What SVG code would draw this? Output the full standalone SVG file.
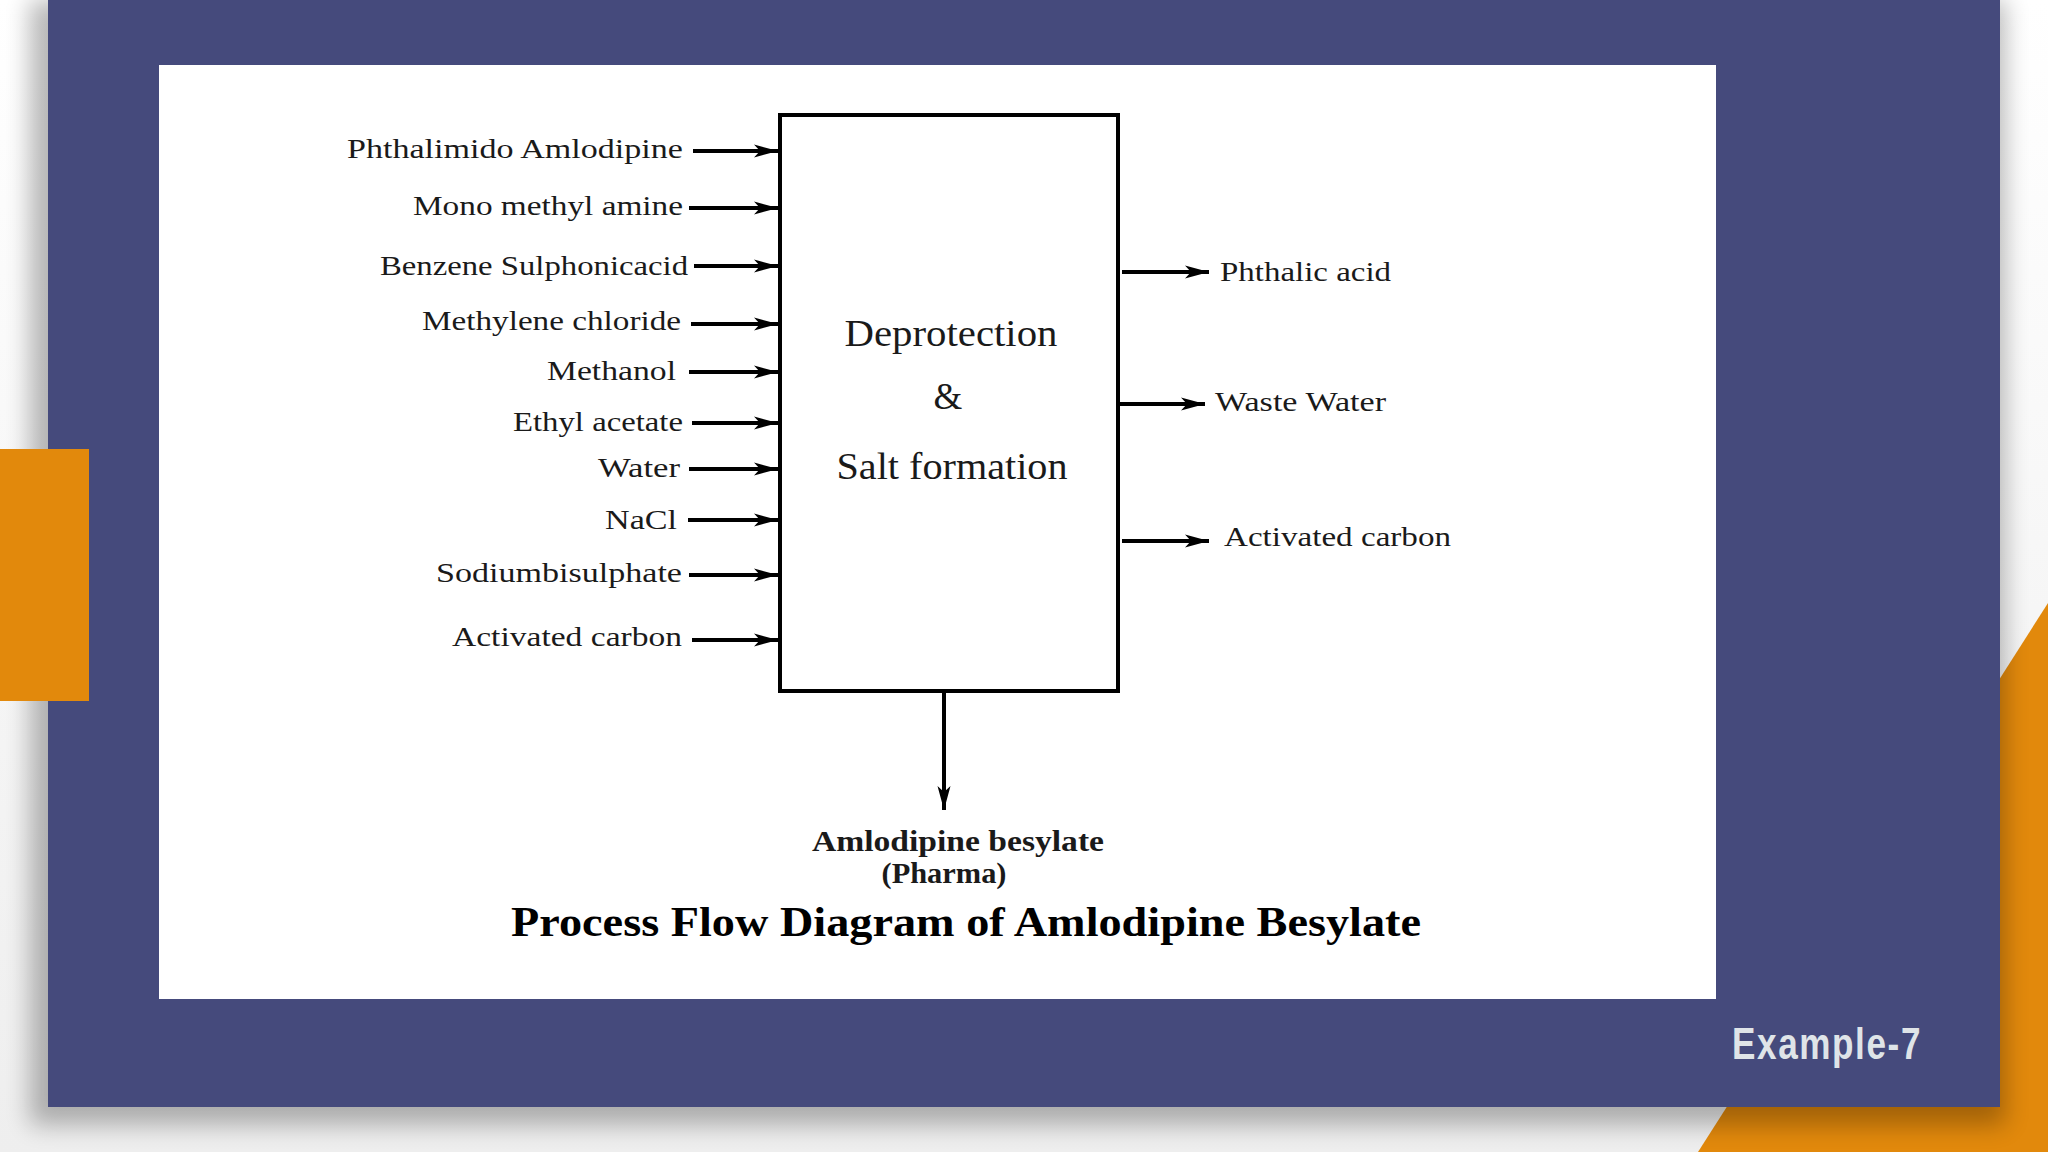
<svg xmlns="http://www.w3.org/2000/svg" width="2048" height="1152" viewBox="0 0 2048 1152">
<defs>
<style>
.lbl{font-family:"Liberation Serif","Times New Roman",serif;font-size:28px;fill:#1a1a1a}
.box{fill:#fff;stroke:#000;stroke-width:4}
.mid{font-family:"Liberation Serif","Times New Roman",serif;font-size:37px;fill:#1a1a1a;text-anchor:middle}
.prod{font-family:"Liberation Serif","Times New Roman",serif;font-size:29px;font-weight:bold;fill:#1a1a1a;text-anchor:middle}
.title{font-family:"Liberation Serif","Times New Roman",serif;font-size:43px;font-weight:bold;fill:#000;text-anchor:middle}
.conn line{stroke:#000;stroke-width:4;marker-end:url(#ah)}
</style>
<marker id="ah" markerUnits="userSpaceOnUse" markerWidth="26" markerHeight="16" refX="24" refY="8" orient="auto">
<path d="M0,1.5 L24,8 L0,14.5 L6,8 Z" fill="#000"/>
</marker>
<filter id="sh" x="-5%" y="-5%" width="110%" height="115%">
<feGaussianBlur stdDeviation="12"/>
</filter>
<linearGradient id="bg" x1="0" y1="0" x2="0" y2="1">
<stop offset="0" stop-color="#ffffff"/>
<stop offset="1" stop-color="#eeeeee"/>
</linearGradient>
</defs>
<g id="background">
<rect x="0" y="0" width="2048" height="1152" fill="url(#bg)"/>
<polygon points="2048,603 2048,1152 1698,1152" fill="#e2890c"/>
<rect x="30" y="0" width="1975" height="1125" fill="#000" opacity="0.28" filter="url(#sh)"/>
<rect x="48" y="0" width="1952" height="1107" fill="#454a7c"/>
<rect x="0" y="449" width="89" height="252" fill="#e2890c"/>
<rect x="159" y="65" width="1557" height="934" fill="#ffffff"/>
<text x="1827" y="1059" font-family="Liberation Sans, Arial, sans-serif" font-weight="bold" font-size="44" fill="#dfe4e8" text-anchor="middle" letter-spacing="2" textLength="190" lengthAdjust="spacingAndGlyphs">Example-7</text>
</g>
<g id="process">
<rect class="box" x="780" y="115" width="338" height="576"/>
<text class="mid" x="951" y="346" textLength="213" lengthAdjust="spacingAndGlyphs">Deprotection</text>
<text class="mid" x="948" y="409">&amp;</text>
<text class="mid" x="952" y="479" textLength="231" lengthAdjust="spacingAndGlyphs">Salt formation</text>
</g>
<g id="inputs">
<g id="in1"><text class="lbl" x="347" y="158" textLength="336" lengthAdjust="spacingAndGlyphs">Phthalimido Amlodipine</text></g>
<g id="in2"><text class="lbl" x="413" y="215" textLength="270" lengthAdjust="spacingAndGlyphs">Mono methyl amine</text></g>
<g id="in3"><text class="lbl" x="380" y="275" textLength="308" lengthAdjust="spacingAndGlyphs">Benzene Sulphonicacid</text></g>
<g id="in4"><text class="lbl" x="422" y="330" textLength="259" lengthAdjust="spacingAndGlyphs">Methylene chloride</text></g>
<g id="in5"><text class="lbl" x="547" y="380" textLength="129" lengthAdjust="spacingAndGlyphs">Methanol</text></g>
<g id="in6"><text class="lbl" x="513" y="431" textLength="170" lengthAdjust="spacingAndGlyphs">Ethyl acetate</text></g>
<g id="in7"><text class="lbl" x="598" y="477" textLength="82" lengthAdjust="spacingAndGlyphs">Water</text></g>
<g id="in8"><text class="lbl" x="605" y="529" textLength="72" lengthAdjust="spacingAndGlyphs">NaCl</text></g>
<g id="in9"><text class="lbl" x="436" y="582" textLength="246" lengthAdjust="spacingAndGlyphs">Sodiumbisulphate</text></g>
<g id="in10"><text class="lbl" x="452" y="646" textLength="230" lengthAdjust="spacingAndGlyphs">Activated carbon</text></g>
</g>
<g id="outputs">
<g id="out1"><text class="lbl" x="1220" y="281" textLength="171" lengthAdjust="spacingAndGlyphs">Phthalic acid</text></g>
<g id="out2"><text class="lbl" x="1215" y="411" textLength="171" lengthAdjust="spacingAndGlyphs">Waste Water</text></g>
<g id="out3"><text class="lbl" x="1224" y="546" textLength="227" lengthAdjust="spacingAndGlyphs">Activated carbon</text></g>
</g>
<g id="product">
<text class="prod" x="958" y="851" textLength="292" lengthAdjust="spacingAndGlyphs">Amlodipine besylate</text>
<text class="prod" x="944" y="883" textLength="125" lengthAdjust="spacingAndGlyphs">(Pharma)</text>
</g>
<g id="caption">
<text class="title" x="966" y="936" textLength="910" lengthAdjust="spacingAndGlyphs">Process Flow Diagram of Amlodipine Besylate</text>
</g>
<g id="connectors" class="conn">
<line x1="693" y1="151" x2="778" y2="151"/>
<line x1="689" y1="208" x2="778" y2="208"/>
<line x1="694" y1="266" x2="778" y2="266"/>
<line x1="691" y1="324" x2="778" y2="324"/>
<line x1="689" y1="372" x2="778" y2="372"/>
<line x1="692" y1="423" x2="778" y2="423"/>
<line x1="689" y1="469" x2="778" y2="469"/>
<line x1="688" y1="520" x2="778" y2="520"/>
<line x1="689" y1="575" x2="778" y2="575"/>
<line x1="692" y1="640" x2="778" y2="640"/>
<line x1="1122" y1="272" x2="1209" y2="272"/>
<line x1="1120" y1="404" x2="1205" y2="404"/>
<line x1="1122" y1="541" x2="1209" y2="541"/>
<line x1="944" y1="693" x2="944" y2="810"/>
</g>
</svg>
